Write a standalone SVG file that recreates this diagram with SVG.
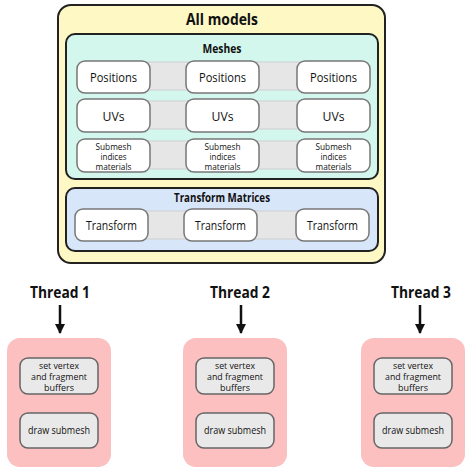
<svg xmlns="http://www.w3.org/2000/svg" width="474" height="475" viewBox="0 0 474 475">
<defs>
<style>
text{font-family:"Open Sans","Noto Sans","DejaVu Sans",sans-serif;fill:#111;text-anchor:middle}
.h1{font-size:16px;font-weight:bold}
.h2{font-size:11.5px;font-weight:bold}
.item{fill:#fff;stroke:#777;stroke-width:1.5}
.band{fill:#e6e6e6;stroke:#cfcfcf;stroke-width:1}
.t{font-size:13px}
.s{font-size:8.8px}
.pink{fill:#fcc0c0}
.step{fill:#e9e9e9;stroke:#666;stroke-width:1.5}
.w{font-size:9.5px}
.d{font-size:10px}
</style>
<marker id="ah" viewBox="0 0 10 10" refX="9" refY="5" markerWidth="4" markerHeight="4" orient="auto" markerUnits="strokeWidth"><path d="M0,0L10,5L0,10z" fill="#111"/></marker>
</defs>
<g id="all-models">
<rect x="58" y="5" width="327" height="258" rx="13" fill="#fdf8c4" stroke="#222" stroke-width="2"/>
<text class="h1" x="222" y="25" textLength="72" lengthAdjust="spacingAndGlyphs">All models</text>
</g>
<g id="meshes">
<rect x="66" y="34" width="312" height="145" rx="9" fill="#d3f7ec" stroke="#222" stroke-width="2"/>
<text class="h2" x="222" y="53" textLength="39" lengthAdjust="spacingAndGlyphs">Meshes</text>
<rect class="band" x="140" y="62" width="165" height="28"/>
<rect class="band" x="140" y="101" width="165" height="28"/>
<rect class="band" x="140" y="141" width="165" height="28"/>
</g>
<g id="positions-1"><rect class="item" x="77" y="61" width="73" height="32" rx="8"/><text class="t" x="113.5" y="82" textLength="47" lengthAdjust="spacingAndGlyphs">Positions</text></g>
<g id="positions-2"><rect class="item" x="186" y="61" width="73" height="32" rx="8"/><text class="t" x="222.5" y="82" textLength="47" lengthAdjust="spacingAndGlyphs">Positions</text></g>
<g id="positions-3"><rect class="item" x="297" y="61" width="73" height="32" rx="8"/><text class="t" x="333.5" y="82" textLength="47" lengthAdjust="spacingAndGlyphs">Positions</text></g>
<g id="uvs-1"><rect class="item" x="77" y="99" width="73" height="33" rx="8"/><text class="t" x="113.5" y="120.5" textLength="22" lengthAdjust="spacingAndGlyphs">UVs</text></g>
<g id="uvs-2"><rect class="item" x="186" y="99" width="73" height="33" rx="8"/><text class="t" x="222.5" y="120.5" textLength="22" lengthAdjust="spacingAndGlyphs">UVs</text></g>
<g id="uvs-3"><rect class="item" x="297" y="99" width="73" height="33" rx="8"/><text class="t" x="333.5" y="120.5" textLength="22" lengthAdjust="spacingAndGlyphs">UVs</text></g>
<g id="submesh-1"><rect class="item" x="77" y="139" width="73" height="33" rx="8"/><text class="s" x="113.5" y="149.5" textLength="36" lengthAdjust="spacingAndGlyphs">Submesh</text><text class="s" x="113.5" y="159.5" textLength="26" lengthAdjust="spacingAndGlyphs">indices</text><text class="s" x="113.5" y="169.5" textLength="36" lengthAdjust="spacingAndGlyphs">materials</text></g>
<g id="submesh-2"><rect class="item" x="186" y="139" width="73" height="33" rx="8"/><text class="s" x="222.5" y="149.5" textLength="36" lengthAdjust="spacingAndGlyphs">Submesh</text><text class="s" x="222.5" y="159.5" textLength="26" lengthAdjust="spacingAndGlyphs">indices</text><text class="s" x="222.5" y="169.5" textLength="36" lengthAdjust="spacingAndGlyphs">materials</text></g>
<g id="submesh-3"><rect class="item" x="297" y="139" width="73" height="33" rx="8"/><text class="s" x="333.5" y="149.5" textLength="36" lengthAdjust="spacingAndGlyphs">Submesh</text><text class="s" x="333.5" y="159.5" textLength="26" lengthAdjust="spacingAndGlyphs">indices</text><text class="s" x="333.5" y="169.5" textLength="36" lengthAdjust="spacingAndGlyphs">materials</text></g>
<g id="transform-matrices">
<rect x="66" y="188" width="312" height="63" rx="9" fill="#d8e6fa" stroke="#222" stroke-width="2"/>
<text class="h2" x="222" y="202" textLength="96" lengthAdjust="spacingAndGlyphs">Transform Matrices</text>
<rect class="band" x="140" y="211" width="165" height="28"/>
</g>
<g id="transform-1"><rect class="item" x="75" y="209" width="73" height="32" rx="8"/><text class="t" x="111.5" y="230" textLength="51" lengthAdjust="spacingAndGlyphs">Transform</text></g>
<g id="transform-2"><rect class="item" x="184" y="209" width="73" height="32" rx="8"/><text class="t" x="220.5" y="230" textLength="51" lengthAdjust="spacingAndGlyphs">Transform</text></g>
<g id="transform-3"><rect class="item" x="296" y="209" width="73" height="32" rx="8"/><text class="t" x="332.5" y="230" textLength="51" lengthAdjust="spacingAndGlyphs">Transform</text></g>
<g id="thread-1">
<text class="h1" x="60" y="298" textLength="60" lengthAdjust="spacingAndGlyphs">Thread 1</text>
<rect class="pink" x="7" y="338" width="104" height="129" rx="13"/>
<rect class="step" x="20" y="358" width="78" height="36" rx="8"/>
<text class="w" x="59" y="369" textLength="40" lengthAdjust="spacingAndGlyphs">set vertex</text><text class="w" x="59" y="380" textLength="56" lengthAdjust="spacingAndGlyphs">and fragment</text><text class="w" x="59" y="391" textLength="30" lengthAdjust="spacingAndGlyphs">buffers</text>
<rect class="step" x="20" y="413" width="78" height="35" rx="8"/>
<text class="d" x="59" y="434" textLength="62" lengthAdjust="spacingAndGlyphs">draw submesh</text>
</g>
<g id="thread-2">
<text class="h1" x="240" y="298" textLength="60" lengthAdjust="spacingAndGlyphs">Thread 2</text>
<rect class="pink" x="183" y="338" width="104" height="129" rx="13"/>
<rect class="step" x="196" y="358" width="78" height="36" rx="8"/>
<text class="w" x="235" y="369" textLength="40" lengthAdjust="spacingAndGlyphs">set vertex</text><text class="w" x="235" y="380" textLength="56" lengthAdjust="spacingAndGlyphs">and fragment</text><text class="w" x="235" y="391" textLength="30" lengthAdjust="spacingAndGlyphs">buffers</text>
<rect class="step" x="196" y="413" width="78" height="35" rx="8"/>
<text class="d" x="235" y="434" textLength="62" lengthAdjust="spacingAndGlyphs">draw submesh</text>
</g>
<g id="thread-3">
<text class="h1" x="421" y="298" textLength="60" lengthAdjust="spacingAndGlyphs">Thread 3</text>
<rect class="pink" x="361" y="338" width="104" height="129" rx="13"/>
<rect class="step" x="374" y="358" width="78" height="36" rx="8"/>
<text class="w" x="413" y="369" textLength="40" lengthAdjust="spacingAndGlyphs">set vertex</text><text class="w" x="413" y="380" textLength="56" lengthAdjust="spacingAndGlyphs">and fragment</text><text class="w" x="413" y="391" textLength="30" lengthAdjust="spacingAndGlyphs">buffers</text>
<rect class="step" x="374" y="413" width="78" height="35" rx="8"/>
<text class="d" x="413" y="434" textLength="62" lengthAdjust="spacingAndGlyphs">draw submesh</text>
</g>
<g id="connectors" stroke="#111" stroke-width="2.5" fill="none">
<line x1="60" y1="305" x2="60" y2="333" marker-end="url(#ah)"/>
<line x1="241" y1="305" x2="241" y2="333" marker-end="url(#ah)"/>
<line x1="420" y1="305" x2="420" y2="333" marker-end="url(#ah)"/>
</g>
</svg>
